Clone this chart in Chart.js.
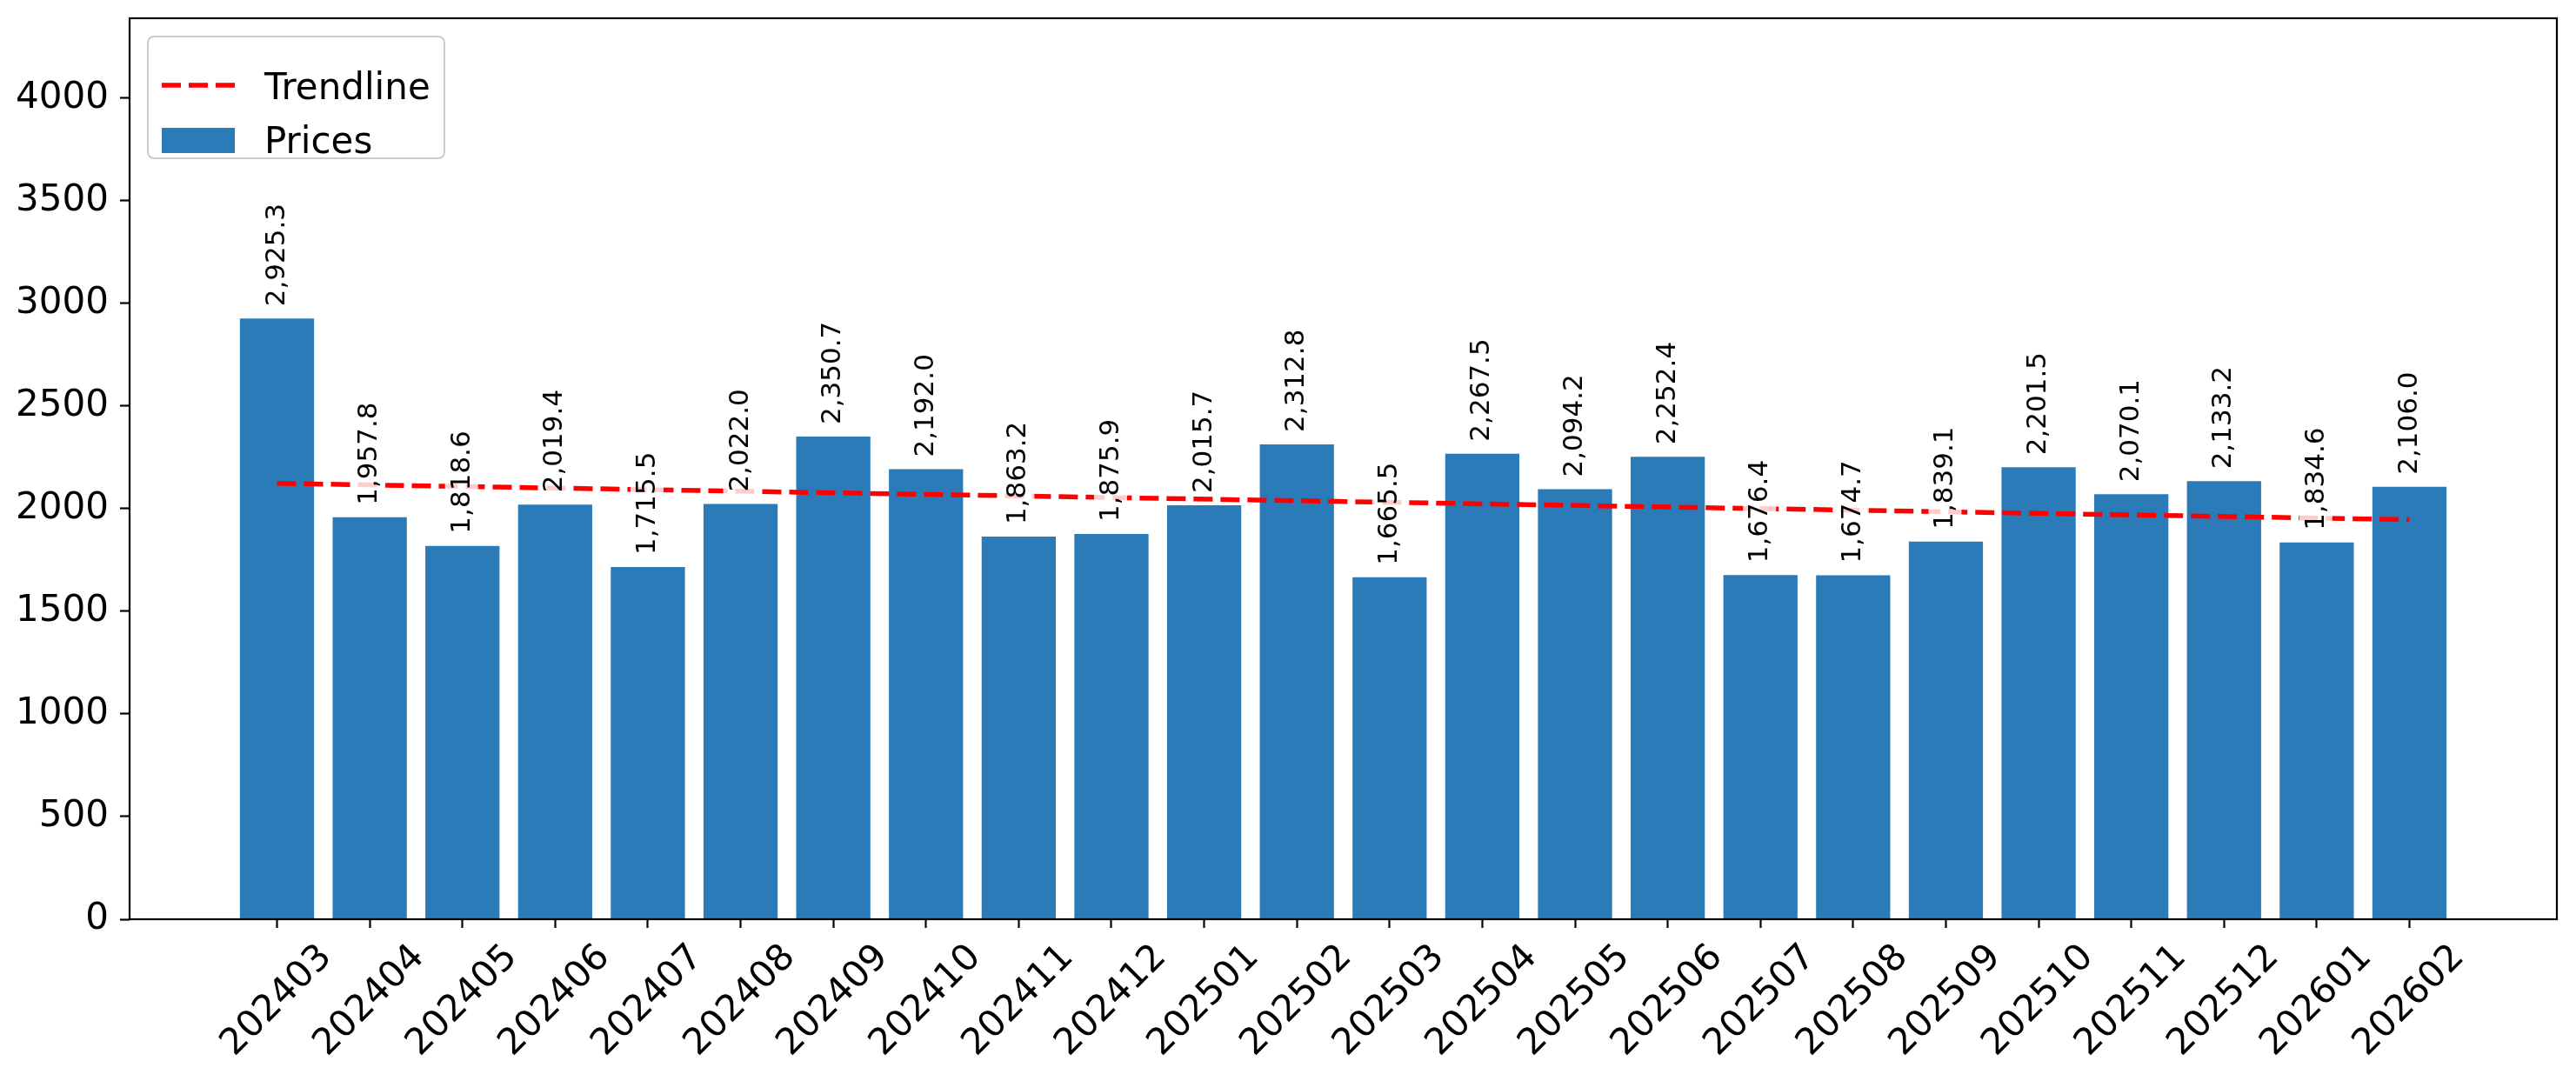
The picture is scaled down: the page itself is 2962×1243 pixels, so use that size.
<!DOCTYPE html>
<html>
<head>
<meta charset="utf-8">
<title>Prices</title>
<script src="https://cdn.jsdelivr.net/npm/chart.js@4.4.1/dist/chart.umd.min.js"></script>
<style>
  html, body { margin: 0; padding: 0; background: #fff; }
  #wrap { width: 2962px; height: 1243px; }
</style>
</head>
<body>
<div id="wrap"><canvas id="priceChart" width="2962" height="1243"></canvas></div>
<script>
// data
const months = ['202403', '202404', '202405', '202406', '202407', '202408', '202409', '202410',
  '202411', '202412', '202501', '202502', '202503', '202504', '202505', '202506',
  '202507', '202508', '202509', '202510', '202511', '202512', '202601', '202602'];
const prices = [2925.3, 1957.8, 1818.6, 2019.4, 1715.5, 2022.0, 2350.7, 2192.0,
  1863.2, 1875.9, 2015.7, 2312.8, 1665.5, 2267.5, 2094.2, 2252.4,
  1676.4, 1674.7, 1839.1, 2201.5, 2070.1, 2133.2, 1834.6, 2106.0];
// trendline ends, at first and last month
const trendIdx = [0, 23];
const trendVals = [2123, 1946];
const yTicks = [0, 500, 1000, 1500, 2000, 2500, 3000, 3500, 4000];

const BAR_BLUE = '#2b7bb9';
const TREND_RED = '#ff0000';
const FONT = '"DejaVu Sans", "Liberation Sans", sans-serif';
const BIG = 42;    // ticks and legend
const SMALL = 31;  // value labels

Chart.defaults.font.family = FONT;
Chart.defaults.color = '#000';

function fmt(v) {
  return v.toLocaleString('en-US', { minimumFractionDigits: 1, maximumFractionDigits: 1 });
}

// value labels with a faint white box, above the bars
const valueLabels = {
  id: 'valueLabels',
  afterDatasetsDraw(chart) {
    const meta = chart.getDatasetMeta(1);
    const ctx = chart.ctx;
    ctx.save();
    ctx.font = SMALL + 'px ' + FONT;
    meta.data.forEach((bar, i) => {
      const text = fmt(prices[i]);
      const w = ctx.measureText(text).width;
      const x = bar.x;
      const y0 = bar.y - 14;
      ctx.fillStyle = 'rgba(255,255,255,0.8)';
      ctx.fillRect(x - 20, y0 - w - 3, 38, w + 6);
      ctx.save();
      ctx.translate(x, y0);
      ctx.rotate(-Math.PI / 2);
      ctx.fillStyle = '#000';
      ctx.textAlign = 'left';
      ctx.textBaseline = 'middle';
      ctx.fillText(text, 0, 0);
      ctx.restore();
    });
    ctx.restore();
  }
};

// frame, centred rotated month labels and the legend box
const decorations = {
  id: 'decorations',
  afterDraw(chart) {
    const ctx = chart.ctx;
    const area = chart.chartArea;
    const xScale = chart.scales.x;

    ctx.save();
    ctx.strokeStyle = '#000';
    ctx.lineWidth = 2.2;
    ctx.strokeRect(area.left, area.top, area.right - area.left, area.bottom - area.top);

    ctx.font = BIG + 'px ' + FONT;
    ctx.fillStyle = '#000';
    ctx.textAlign = 'center';
    ctx.textBaseline = 'middle';
    months.forEach((m, i) => {
      const x = xScale.getPixelForValue(i);
      ctx.save();
      ctx.translate(x, area.bottom + 94);
      ctx.rotate(-Math.PI / 4);
      ctx.fillText(m, 0, 0);
      ctx.restore();
    });

    // legend
    const lx = area.left + 21, ly = area.top + 21, lw = 341, lh = 140, r = 8;
    ctx.beginPath();
    ctx.moveTo(lx + r, ly);
    ctx.lineTo(lx + lw - r, ly);
    ctx.quadraticCurveTo(lx + lw, ly, lx + lw, ly + r);
    ctx.lineTo(lx + lw, ly + lh - r);
    ctx.quadraticCurveTo(lx + lw, ly + lh, lx + lw - r, ly + lh);
    ctx.lineTo(lx + r, ly + lh);
    ctx.quadraticCurveTo(lx, ly + lh, lx, ly + lh - r);
    ctx.lineTo(lx, ly + r);
    ctx.quadraticCurveTo(lx, ly, lx + r, ly);
    ctx.closePath();
    ctx.fillStyle = 'rgba(255,255,255,0.8)';
    ctx.fill();
    ctx.strokeStyle = '#cccccc';
    ctx.lineWidth = 2;
    ctx.stroke();

    const trend = chart.data.datasets[0];
    const bars = chart.data.datasets[1];

    ctx.beginPath();
    ctx.setLineDash([22, 9]);
    ctx.strokeStyle = trend.borderColor;
    ctx.lineWidth = 5.5;
    ctx.moveTo(lx + 16, ly + 56);
    ctx.lineTo(lx + 100, ly + 56);
    ctx.stroke();
    ctx.setLineDash([]);

    ctx.fillStyle = bars.backgroundColor;
    ctx.fillRect(lx + 16, ly + 105, 84, 29);

    ctx.fillStyle = '#000';
    ctx.textAlign = 'left';
    ctx.textBaseline = 'alphabetic';
    ctx.font = BIG + 'px ' + FONT;
    ctx.fillText(trend.label, lx + 134, ly + 72);
    ctx.fillText(bars.label, lx + 134, ly + 134);
    ctx.restore();
  }
};

const ctx = document.getElementById('priceChart').getContext('2d');
new Chart(ctx, {
  type: 'bar',
  data: {
    datasets: [
      {
        type: 'line',
        label: 'Trendline',
        data: trendIdx.map((x, i) => ({ x: x, y: trendVals[i] })),
        borderColor: TREND_RED,
        borderWidth: 5.5,
        borderDash: [22, 9],
        pointRadius: 0,
        fill: false,
        order: 0
      },
      {
        type: 'bar',
        label: 'Prices',
        data: prices.map((v, i) => ({ x: i, y: v })),
        backgroundColor: BAR_BLUE,
        borderWidth: 0,
        categoryPercentage: 1,
        barPercentage: 0.8,
        order: 1
      }
    ]
  },
  options: {
    responsive: false,
    devicePixelRatio: 1,
    animation: false,
    layout: { padding: { top: 21, right: 22, left: 0, bottom: 0 } },
    plugins: {
      legend: { display: false },
      tooltip: { enabled: false }
    },
    scales: {
      x: {
        type: 'linear',
        min: -1.59,
        max: 24.59,
        offset: false,
        afterBuildTicks: (scale) => {
          scale.ticks = months.map((m, i) => ({ value: i }));
        },
        afterFit: (scale) => {
          scale.height = 186;
          scale.paddingLeft = 0;
          scale.paddingRight = 0;
        },
        ticks: { display: false },
        grid: {
          offset: false,
          drawOnChartArea: false,
          drawTicks: true,
          tickLength: 10,
          tickColor: '#000',
          tickWidth: 2.2
        },
        border: { display: false }
      },
      y: {
        min: 0,
        max: 4388,
        afterBuildTicks: (scale) => {
          scale.ticks = yTicks.map(v => ({ value: v }));
        },
        afterFit: (scale) => {
          scale.width = 149;
          scale.paddingTop = 0;
          scale.paddingBottom = 0;
        },
        ticks: {
          font: { size: BIG },
          color: '#000',
          padding: 13,
          callback: (v) => String(v)
        },
        grid: {
          drawOnChartArea: false,
          drawTicks: true,
          tickLength: 11,
          tickColor: '#000',
          tickWidth: 2.2
        },
        border: { display: false }
      }
    }
  },
  plugins: [valueLabels, decorations]
});
</script>
</body>
</html>
